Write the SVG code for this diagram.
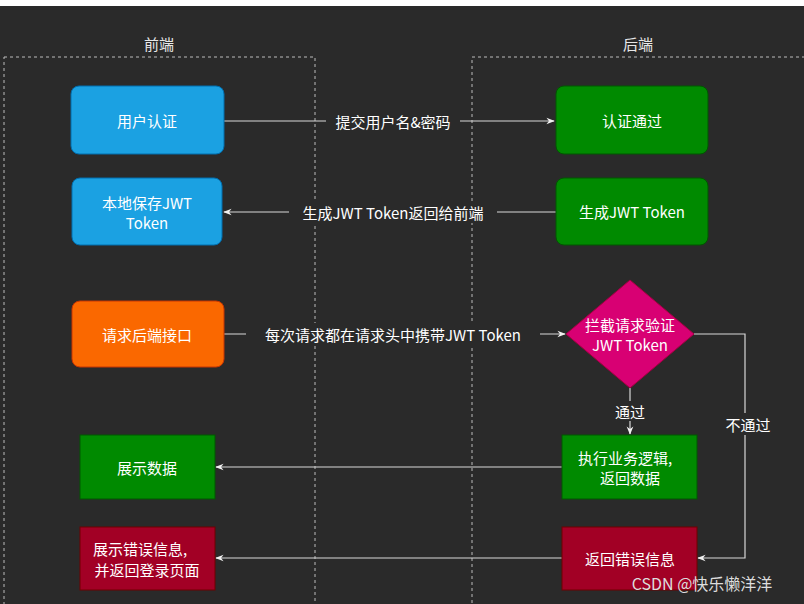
<svg xmlns="http://www.w3.org/2000/svg" width="804" height="604" viewBox="0 0 804 604">
<defs>
<marker id="ar" viewBox="0 0 10 10" refX="9" refY="5" markerWidth="7" markerHeight="7" orient="auto"><path d="M0,1 L10,5 L0,9 L3,5 Z" fill="#f0f0f0"/></marker>
<style>
text{font-family:"Noto Sans CJK SC","Liberation Sans",sans-serif;font-size:15px;fill:#ffffff;text-anchor:middle;dominant-baseline:central}
.lbl{fill:#e8e8e8}
.cont{fill:none;stroke:#bbbbbb;stroke-width:1;stroke-dasharray:3 3}
.c{fill:none;stroke:#d8d8d8;stroke-width:1.2;marker-end:url(#ar)}
.lb{fill:#2a2a2a}
</style>
</defs>
<rect width="804" height="604" fill="#2a2a2a"/>
<rect width="804" height="6" fill="#ffffff"/>
<g id="frontend"><rect class="cont" x="4" y="57" width="311" height="560"/><text x="159" y="43" class="lbl">前端</text></g>
<g id="backend"><rect class="cont" x="472" y="57" width="340" height="560"/><text x="638" y="43" class="lbl">后端</text></g>
<g id="connectors">
<path class="c" d="M224,121 H554"/>
<rect class="lb" x="326" y="110" width="134" height="22"/><text x="393" y="121">提交用户名&amp;密码</text>
<path class="c" d="M556,212 H224"/>
<rect class="lb" x="289" y="201" width="208" height="22"/><text x="393" y="212">生成JWT Token返回给前端</text>
<path class="c" d="M224,334 H565"/>
<rect class="lb" x="246" y="323" width="294" height="22"/><text x="393" y="334">每次请求都在请求头中携带JWT Token</text>
<path class="c" d="M630,388 V434"/>
<rect class="lb" x="612" y="401" width="36" height="20"/><text x="630" y="411">通过</text>
<path class="c" d="M694,334 H745 V558 H698"/>
<rect class="lb" x="722" y="413" width="52" height="22"/><text x="748" y="424">不通过</text>
<path class="c" d="M562,467 H216"/>
<path class="c" d="M562,558 H216"/>
</g>
<g id="n1"><rect x="71" y="86" width="153" height="68" rx="8" fill="#1ba1e2" stroke="#006eaf"/><text x="147" y="120">用户认证</text></g>
<g id="n2"><rect x="72" y="178" width="150" height="67" rx="8" fill="#1ba1e2" stroke="#006eaf"/><text x="147" y="202">本地保存JWT</text><text x="147" y="222">Token</text></g>
<g id="n3"><rect x="72" y="301" width="152" height="66" rx="8" fill="#fa6800" stroke="#c73500"/><text x="147" y="334">请求后端接口</text></g>
<g id="n4"><rect x="556" y="86" width="152" height="68" rx="8" fill="#008a00" stroke="#005700"/><text x="632" y="120">认证通过</text></g>
<g id="n5"><rect x="556" y="178" width="152" height="67" rx="8" fill="#008a00" stroke="#005700"/><text x="632" y="211">生成JWT Token</text></g>
<g id="n6"><polygon points="630,280 694,334 630,388 566,334" fill="#d80073" stroke="#a50040"/><text x="630" y="324">拦截请求验证</text><text x="630" y="344">JWT Token</text></g>
<g id="n7"><rect x="562" y="435" width="135" height="64" fill="#008a00" stroke="#005700"/><text x="625" y="457">执行业务逻辑,</text><text x="630" y="477">返回数据</text></g>
<g id="n8"><rect x="80" y="435" width="135" height="64" fill="#008a00" stroke="#005700"/><text x="147" y="467">展示数据</text></g>
<g id="n9"><rect x="562" y="527" width="135" height="63" fill="#a20025" stroke="#6f0000"/><text x="630" y="558">返回错误信息</text></g>
<g id="n10"><rect x="80" y="527" width="135" height="63" fill="#a20025" stroke="#6f0000"/><text x="140" y="548">展示错误信息,</text><text x="147" y="569">并返回登录页面</text></g>
<text x="702" y="583" style="fill:#dddddd;font-size:16px">CSDN @快乐懒洋洋</text>
</svg>
